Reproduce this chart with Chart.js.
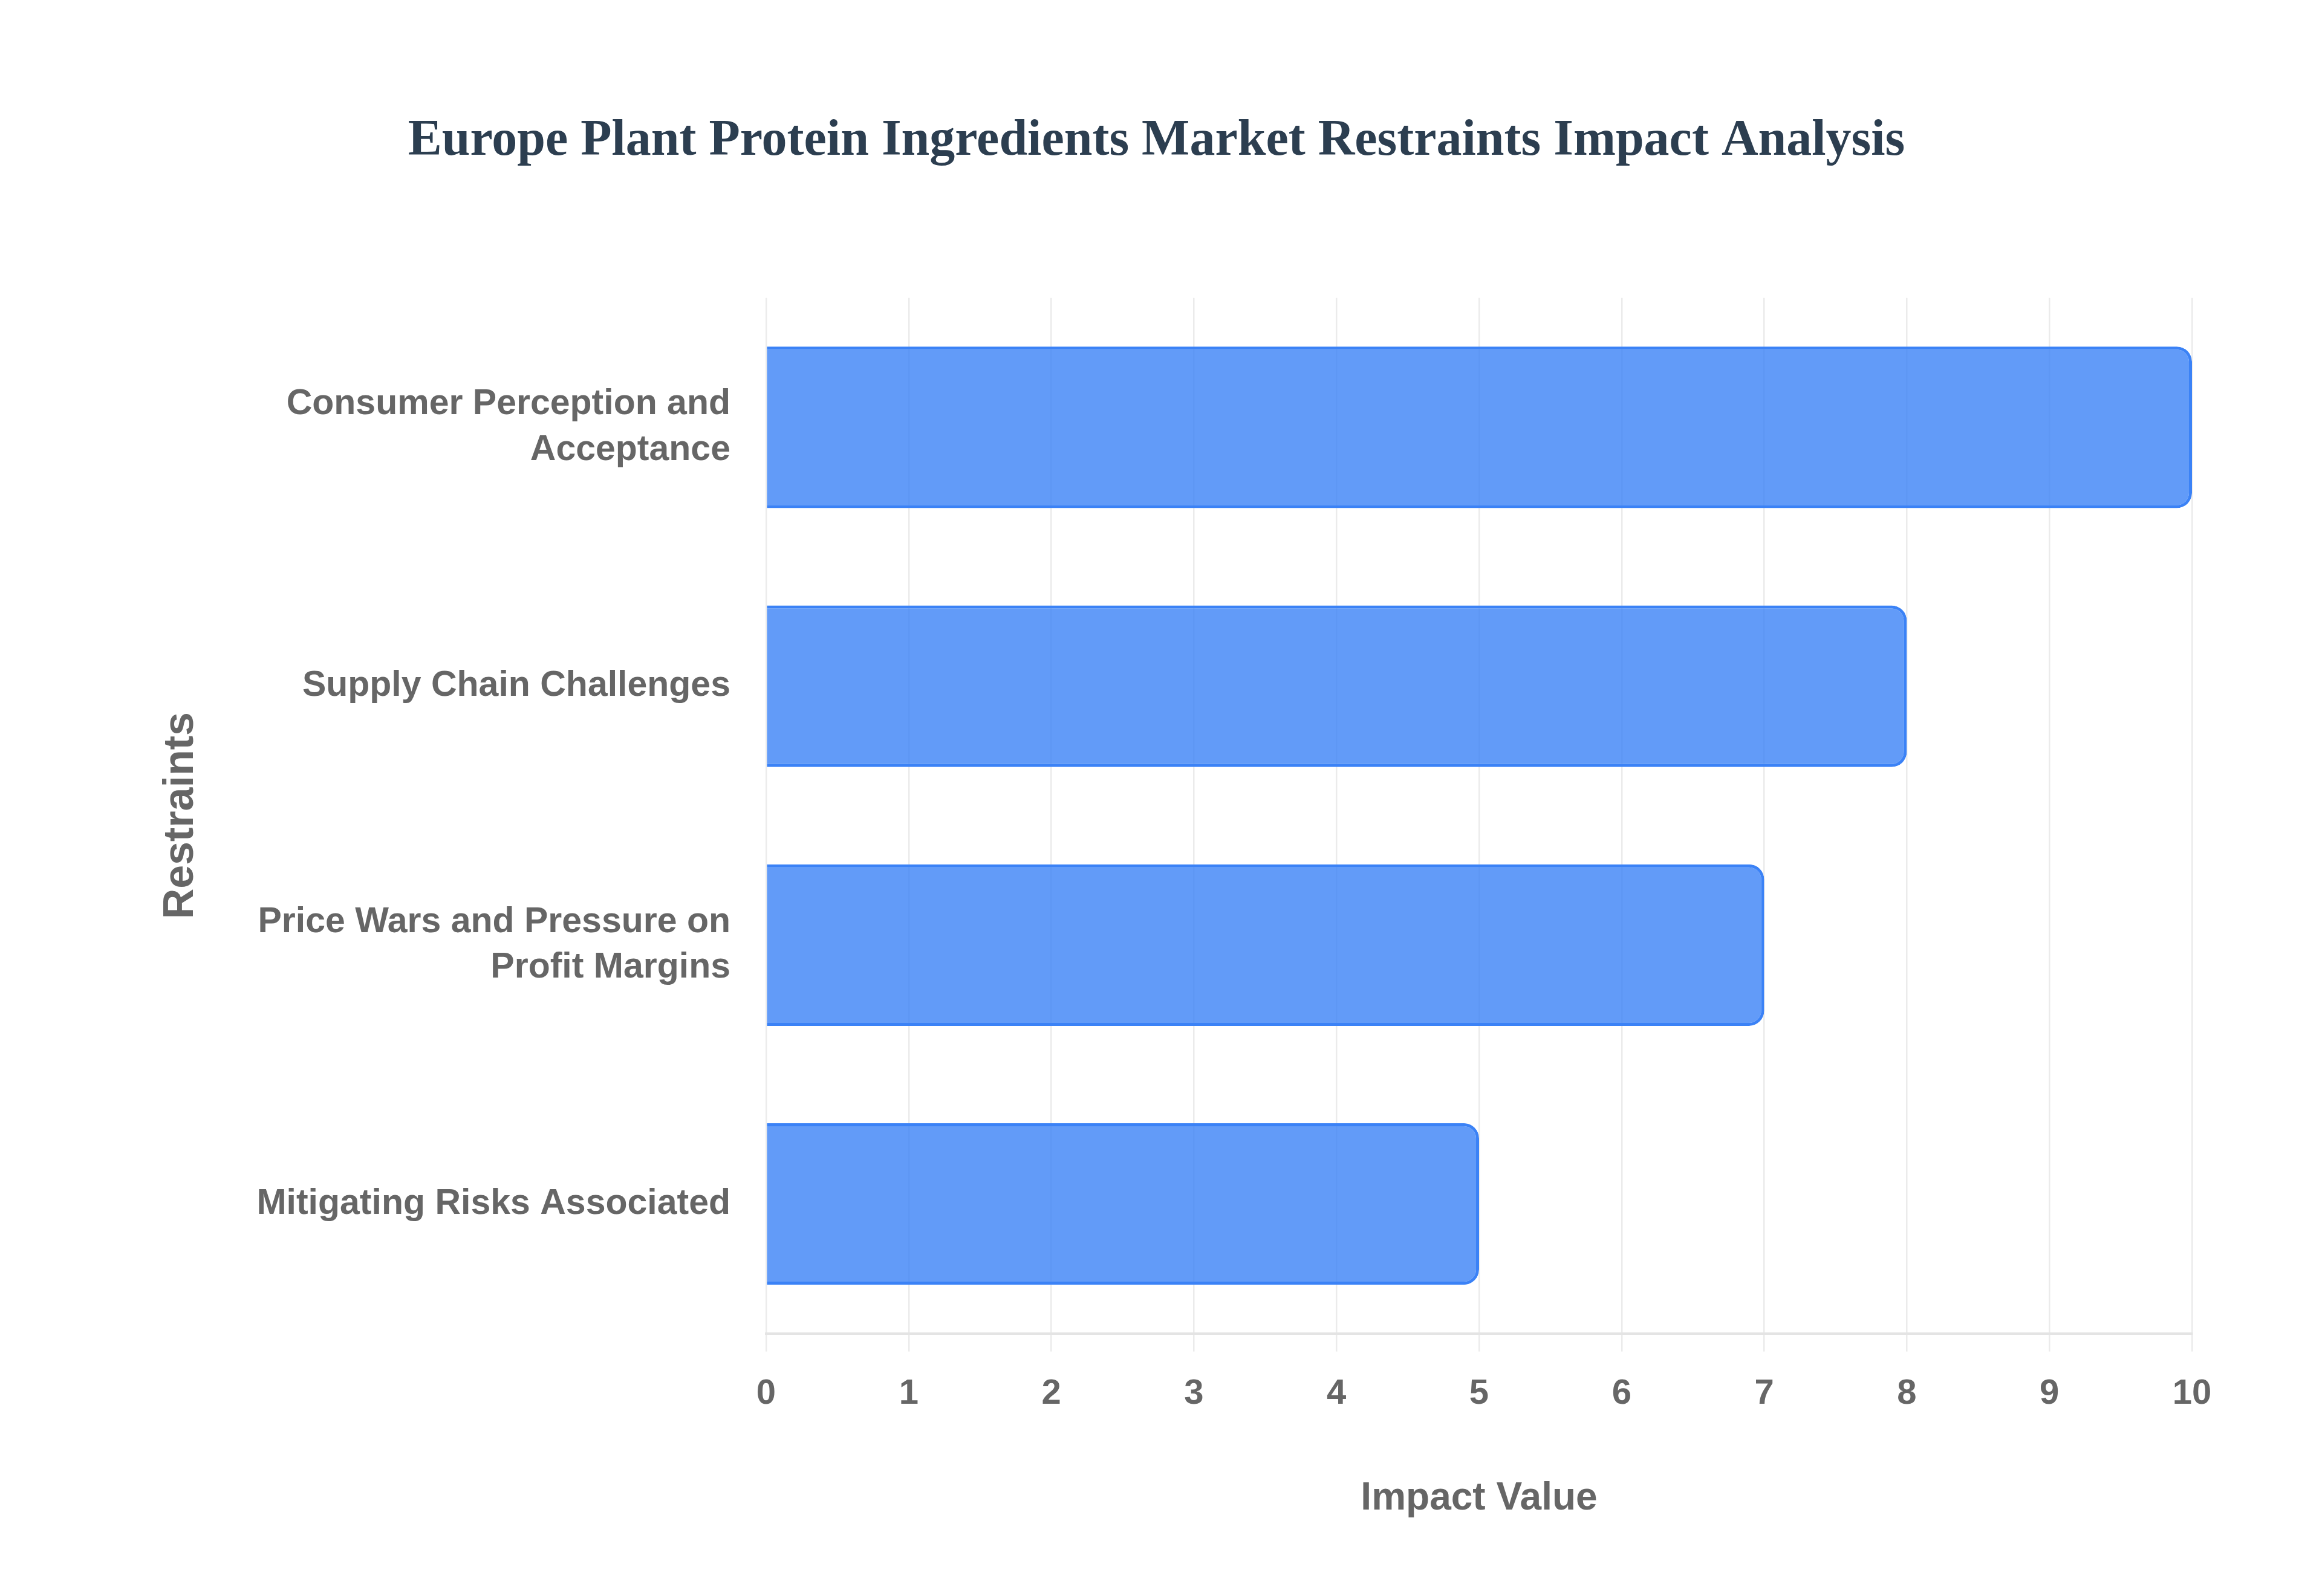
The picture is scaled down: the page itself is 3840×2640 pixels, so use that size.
<!DOCTYPE html>
<html>
<head>
<meta charset="utf-8">
<title>Europe Plant Protein Ingredients Market Restraints Impact Analysis</title>
<script src="https://cdn.jsdelivr.net/npm/chart.js@4"></script>
<style>
    html, body { margin: 0; padding: 0; background: #ffffff; }
    #wrap { width: 3840px; height: 2640px; position: relative; }
</style>
</head>
<body>
<div id="wrap"><canvas id="restraintsChart"></canvas></div>
<script>
// Chart data
const restraintLabels = [
    ['Consumer Perception and', 'Acceptance'],
    'Supply Chain Challenges',
    ['Price Wars and Pressure on', 'Profit Margins'],
    'Mitigating Risks Associated'
];
const impactValues = [10, 8, 7, 5];
const impactTicks = [0, 1, 2, 3, 4, 5, 6, 7, 8, 9, 10];

const textGray = '#666666';
const sansFont = '"Liberation Sans", Arial, Helvetica, sans-serif';

function createRestraintsChart() {
    const ctx = document.getElementById('restraintsChart').getContext('2d');

    new Chart(ctx, {
        type: 'bar',
        data: {
            labels: restraintLabels,
            datasets: [{
                label: 'Impact Value',
                data: impactValues,
                backgroundColor: 'rgba(59, 130, 246, 0.8)',
                borderColor: '#3b82f6',
                borderWidth: 5,
                borderRadius: 25,
                borderSkipped: 'start',
                barPercentage: 0.78,
                categoryPercentage: 0.8
            }]
        },
        options: {
            indexAxis: 'y',
            responsive: true,
            maintainAspectRatio: false,
            devicePixelRatio: 1,
            animation: false,
            layout: {
                padding: { top: 0, right: 215, bottom: 122, left: 200 }
            },
            plugins: {
                legend: { display: false },
                tooltip: { enabled: false },
                title: {
                    display: true,
                    text: 'Europe Plant Protein Ingredients Market Restraints Impact Analysis',
                    color: '#2c3e50',
                    font: { family: '"Liberation Serif", "Times New Roman", serif', size: 84, weight: 'bold', lineHeight: 1.2 },
                    padding: { top: 184, bottom: 208 }
                }
            },
            scales: {
                x: {
                    min: 0,
                    max: 10,
                    afterBuildTicks: (scale) => {
                        scale.ticks = impactTicks.map(v => ({ value: v }));
                    },
                    grid: {
                        color: 'rgba(0, 0, 0, 0.08)',
                        lineWidth: 2.5,
                        tickLength: 30,
                        drawTicks: true
                    },
                    border: { display: true, color: '#e4e4e4', width: 4 },
                    ticks: {
                        color: textGray,
                        padding: 36,
                        font: { family: sansFont, size: 58, weight: 'bold', lineHeight: 1.2 }
                    },
                    title: {
                        display: true,
                        text: 'Impact Value',
                        color: textGray,
                        font: { family: sansFont, size: 64, weight: 'bold', lineHeight: 1.2 },
                        padding: { top: 64, bottom: 0 }
                    }
                },
                y: {
                    afterFit: (scale) => {
                        scale.width = 1067;
                    },
                    grid: { display: false, drawTicks: false },
                    border: { display: false },
                    ticks: {
                        color: textGray,
                        padding: 59,
                        font: { family: sansFont, size: 59, weight: 'bold', lineHeight: 1.28 }
                    },
                    title: {
                        display: true,
                        text: 'Restraints',
                        color: textGray,
                        font: { family: sansFont, size: 70, weight: 'bold', lineHeight: 1.2 },
                        padding: { top: 58, bottom: 0 }
                    }
                }
            }
        }
    });
}

document.addEventListener('DOMContentLoaded', createRestraintsChart);
</script>
</body>
</html>
